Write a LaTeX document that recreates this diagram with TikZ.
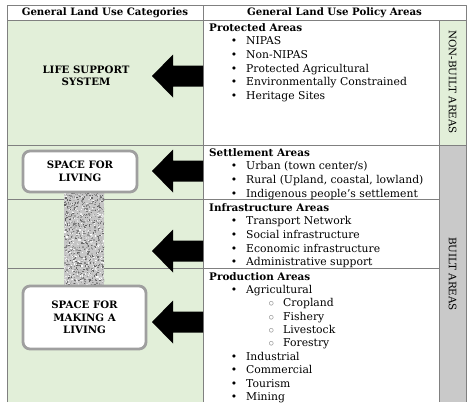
\documentclass[tikz,border=0pt]{standalone}
\usepackage{fontspec}
\setmainfont{DejaVu Serif}
\definecolor{landgreen}{HTML}{E2EFD9}
\definecolor{builtgray}{HTML}{C9C9C9}
\definecolor{rulegray}{HTML}{808080}
\newcommand\bul{\llap{\textbullet\hspace{9pt}}}
\newcommand\subbul{\llap{\textcolor{black!55}{$\circ$}\hspace{9pt}}}
\tikzset{
	hdr/.style={font=\fontsize{10.2}{12}\selectfont\bfseries, inner sep=0pt},
	sect/.style={anchor=base west, font=\fontsize{10.4}{12}\selectfont\bfseries, inner sep=0pt},
	item/.style={anchor=base west, inner sep=0pt},
	catbox/.style={draw=gray!75, line width=2.8pt, fill=white, rounded corners=7pt, align=center, font=\fontsize{10.2}{12.5}\selectfont\bfseries},
	cattxt/.style={align=center, font=\fontsize{10.2}{12.5}\selectfont\bfseries},
	sidetxt/.style={rotate=-90, inner sep=0pt, font=\fontsize{10.3}{12}\selectfont},
}
\begin{document}
\begin{tikzpicture}[x=1pt,y=-1pt, line join=round, font=\fontsize{10.8}{13}\selectfont]
	\useasboundingbox (0,0) rectangle (474,402);
	% fills
	\fill[landgreen] (7,20) rectangle (203,402);
	\fill[landgreen] (439,20) rectangle (466,145);
	\fill[builtgray] (439,145) rectangle (466,402);
	% rules
	\begin{scope}[rulegray, line width=.8pt]
		\draw (7,402)--(7,5)--(466,5)--(466,402);
		\draw (7,20)--(466,20);
		\draw (203,5)--(203,402);
		\draw (439,20)--(439,402);
		\draw (7,145)--(466,145);
		\foreach \y in {199,268}
		\draw (7,\y)--(439,\y);
	\end{scope}
	% headers
	\node[hdr] (cat) at (105,13) {General Land Use Categories};
	\node[hdr] (pol) at (334.5,13) {General Land Use Policy Areas};
	% pillar between the two spaces
	\begin{scope}
		\clip (64,190) rectangle (104,288);
		\fill[gray!45] (64,190) rectangle (104,288);
		\pgfmathsetseed{17}
		\foreach \i in {1,...,1400}{
			\pgfmathsetmacro{\px}{64+40*rnd}
			\pgfmathsetmacro{\py}{190+98*rnd}
			\pgfmathsetmacro{\sh}{int(0+65*rnd)}
			\fill[black!\sh] (\px,\py) rectangle ++(1.3,1.3);
		}
	\end{scope}
	% categories
	\node[cattxt] (life) at (86,76) {LIFE SUPPORT\\SYSTEM};
	\node[catbox, minimum width=114pt, minimum height=41pt] (living) at (80,171.5) {SPACE FOR\\LIVING};
	\node[catbox, minimum width=123pt, minimum height=63pt] (making) at (84.5,317.5) {SPACE FOR\\MAKING A\\LIVING};
	% block arrows
	\foreach \y in {76,171,251,322}
	\fill (203,\y-10.5)--(173,\y-10.5)--(173,\y-21.5)--(152,\y)--(173,\y+21.5)--(173,\y+10.5)--(203,\y+10.5)--cycle;
	% policy areas (base lines)
	\node[sect] (prot) at (209,31) {Protected Areas};
	\foreach \t [count=\i] in {NIPAS,Non-NIPAS,Protected Agricultural,Environmentally Constrained,Heritage Sites}
	\node[item] (prot-\i) at (246,{31+13.7*\i}) {\bul\t};
	\node[sect] (sett) at (209,156) {Settlement Areas};
	\foreach \t [count=\i] in {Urban (town center/s),{Rural (Upland, coastal, lowland)},Indigenous people’s settlement}
	\node[item] (sett-\i) at (246,{156+13.7*\i}) {\bul\t};
	\node[sect] (infra) at (209,211) {Infrastructure Areas};
	\foreach \t [count=\i] in {Transport Network,Social infrastructure,Economic infrastructure,Administrative support}
	\node[item] (infra-\i) at (246,{211+13.7*\i}) {\bul\t};
	\node[sect] (prod) at (209,280) {Production Areas};
	\node[item] (prod-1) at (246,293.5) {\bul Agricultural};
	\foreach \t [count=\i] in {Cropland,Fishery,Livestock,Forestry}
	\node[item] (agri-\i) at (283,{293.5+13.3*\i}) {\subbul\t};
	\foreach \t [count=\i] in {Industrial,Commercial,Tourism,Mining}
	\node[item] (prod-\i) at (246,{346.7+13.5*\i}) {\bul\t};
	% built / non-built
	\node[sidetxt] (nonbuilt) at (452.5,82) {NON-BUILT AREAS};
	\node[sidetxt] (built) at (452.5,274) {BUILT AREAS};
\end{tikzpicture}
\end{document}
